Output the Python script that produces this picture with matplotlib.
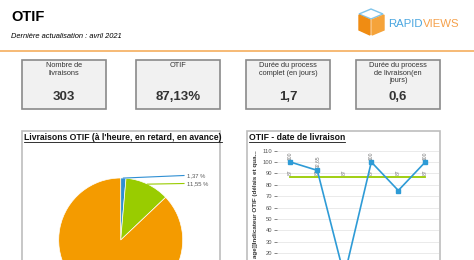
import math
import matplotlib
matplotlib.use("Agg")
import matplotlib.pyplot as plt
from matplotlib.patches import Rectangle, Polygon
from matplotlib.lines import Line2D

plt.rcParams['font.family'] = ['Liberation Sans', 'DejaVu Sans']

# ---- data ----
kpi_labels = ["Nombre de\nlivraisons", "OTIF", "Durée du process\ncomplet (en jours)",
              "Durée du process\nde livraison(en\njours)"]
kpi_values = ["303", "87,13%", "1,7", "0,6"]

pie_labels = ["1,37 %", "11,55 %", ""]
pie_values = [1.37, 11.55, 87.08]
pie_colors = ["#2f8fd3", "#99cc00", "#f49b00"]

line_x = [0, 1, 2, 3, 4, 5]
otif_values = [100, 92.65, 0, 100, 75, 100]
otif_labels = ["100", "92,65", "", "100", "", "100"]
target_values = [87, 87, 87, 87, 87, 87]
target_labels = ["87", "87", "87", "87", "87", "87"]
y_ticks = [20, 30, 40, 50, 60, 70, 80, 90, 100, 110]

W, H = 474, 260
fig = plt.figure(figsize=(W / 100, H / 100), dpi=100)
fig.patch.set_facecolor("white")


def fx(x):
    return x / W


def fy(y):
    return 1 - y / H


def rect_px(x0, y0, x1, y1, **kw):
    r = Rectangle((fx(x0), fy(y1)), fx(x1) - fx(x0), fy(y0) - fy(y1),
                  transform=fig.transFigure, **kw)
    fig.add_artist(r)
    return r


# ---- header ----
fig.text(fx(11), fy(17), "OTIF", fontsize=10.5, fontweight="bold", va="center", ha="left")
fig.text(fx(11), fy(36), "Dernière actualisation : avril 2021", fontsize=5.4,
         style="italic", va="center", ha="left")
fig.add_artist(Line2D([0, 1], [fy(51), fy(51)], transform=fig.transFigure,
                      color="#f6b46a", lw=1.3))


def P(pts):
    return [(fx(a), fy(b)) for a, b in pts]


fig.add_artist(Polygon(P([(371, 9), (383, 14), (371, 19), (359, 14)]), closed=True,
                       transform=fig.transFigure, facecolor="#ffffff",
                       edgecolor="#7fc4ea", lw=1.0))
fig.add_artist(Polygon(P([(359, 15), (370, 20), (370, 35), (359, 30)]), closed=True,
                       transform=fig.transFigure, facecolor="#f08c12", edgecolor="#f08c12"))
fig.add_artist(Polygon(P([(372, 20), (384, 15), (384, 30), (372, 35)]), closed=True,
                       transform=fig.transFigure, facecolor="#f5a33a", edgecolor="#f5a33a"))
t1 = fig.text(fx(388), fy(24), "RAPID", fontsize=8.2, color="#4aa6e0", va="center", ha="left")
fig.canvas.draw()
bb = t1.get_window_extent()
fig.text(bb.x1 / W, fy(24), "VIEWS", fontsize=8.2, color="#f5a04a", va="center", ha="left")

# ---- KPI boxes ----
box_x = [(22, 106), (136, 220), (246, 330), (356, 440)]
for (x0, x1), lab, val in zip(box_x, kpi_labels, kpi_values):
    rect_px(x0, 60, x1, 109, facecolor="#f1f1f1", edgecolor="#8a8a8a", lw=1.2)
    fig.text(fx((x0 + x1) / 2), fy(62), lab, fontsize=5.3, color="#333333",
             ha="center", va="top", linespacing=1.15)
    fig.text(fx((x0 + x1) / 2), fy(97), val, fontsize=9.5, fontweight="bold",
             color="#333333", ha="center", va="center")

# ---- panels ----
rect_px(22, 131, 220, 275, facecolor="white", edgecolor="#bdbdbd", lw=1.2, zorder=-5)
rect_px(247, 131, 440, 275, facecolor="white", edgecolor="#bdbdbd", lw=1.2, zorder=-5)


def underlined_title(x, y, s):
    t = fig.text(fx(x), fy(y), s, fontsize=6.2, fontweight="bold", ha="left", va="center",
                 color="#111111")
    fig.canvas.draw()
    b = t.get_window_extent()
    fig.add_artist(Line2D([b.x0 / W, b.x1 / W], [fy(y + 5), fy(y + 5)],
                          transform=fig.transFigure, color="#111111", lw=0.6))


underlined_title(24, 137, "Livraisons OTIF (à l'heure, en retard, en avance)")
underlined_title(249, 137, "OTIF - date de livraison")

# ---- pie ----
cx, cy, r = 120.7, 240, 62
axp = fig.add_axes([fx(cx - r), fy(cy + r), 2 * r / W, 2 * r / H])
axp.pie(pie_values, colors=pie_colors, startangle=90, counterclock=False,
        wedgeprops=dict(edgecolor="white", linewidth=0.5))
axp.set_xlim(-1, 1)
axp.set_ylim(-1, 1)
axp.set_aspect("auto")
axp.axis("off")

label_pos = [(184, 175.5), (184, 183.5), (0, 0)]
start = 90
for val, lab, col, (lx, ly) in zip(pie_values, pie_labels, pie_colors, label_pos):
    mid = start - val * 3.6 / 2
    start -= val * 3.6
    if not lab:
        continue
    px = cx + r * math.cos(math.radians(mid))
    py = cy - r * math.sin(math.radians(mid))
    fig.add_artist(Line2D([fx(px), fx(lx)], [fy(py), fy(ly)], transform=fig.transFigure,
                          color=col, lw=0.8))
    fig.text(fx(lx + 3), fy(ly), lab, fontsize=4.2, color="#555555", ha="left", va="center")

# ---- line chart ----
v2y = lambda v: 162 + (100 - v) * 1.14
ylo, yhi = -5, 112
xl, xr = 276.8, 438.8
axl = fig.add_axes([fx(xl), fy(v2y(ylo)), (xr - xl) / W, (v2y(ylo) - v2y(yhi)) / H])
axl.patch.set_alpha(0)
axl.set_xlim(-0.5, 5.5)
axl.set_ylim(ylo, yhi)
axl.set_yticks(y_ticks)
axl.set_yticklabels([str(t) for t in y_ticks])
axl.tick_params(axis="y", labelsize=4.2, colors="#555555", length=2, width=0.5, pad=1.5)
axl.tick_params(axis="x", bottom=False, labelbottom=False)
for s in axl.spines.values():
    s.set_visible(False)
axl.grid(axis="y", color="#e6e6e6", lw=0.6)
axl.set_axisbelow(True)
axl.plot(line_x, target_values, color="#99cc00", lw=1.3, zorder=3)
axl.plot(line_x, otif_values, color="#2e9bd6", lw=1.2, marker="s", markersize=2.5, zorder=4)
for x, v, lab in zip(line_x, target_values, target_labels):
    axl.annotate(lab, (x, v), xytext=(0, 1.5), textcoords="offset points", rotation=90,
                 fontsize=3.6, color="#777777", ha="center", va="bottom")
for x, v, lab in zip(line_x, otif_values, otif_labels):
    if lab:
        axl.annotate(lab, (x, v), xytext=(0, 1.5), textcoords="offset points", rotation=90,
                     fontsize=3.6, color="#777777", ha="center", va="bottom")

fig.text(fx(255), fy(204), "age]]Indicateur OTIF (délais et qua...", rotation=90,
         fontsize=4.5, fontweight="bold", color="#333333", ha="center", va="center")

fig.savefig("out.png", dpi=100)
